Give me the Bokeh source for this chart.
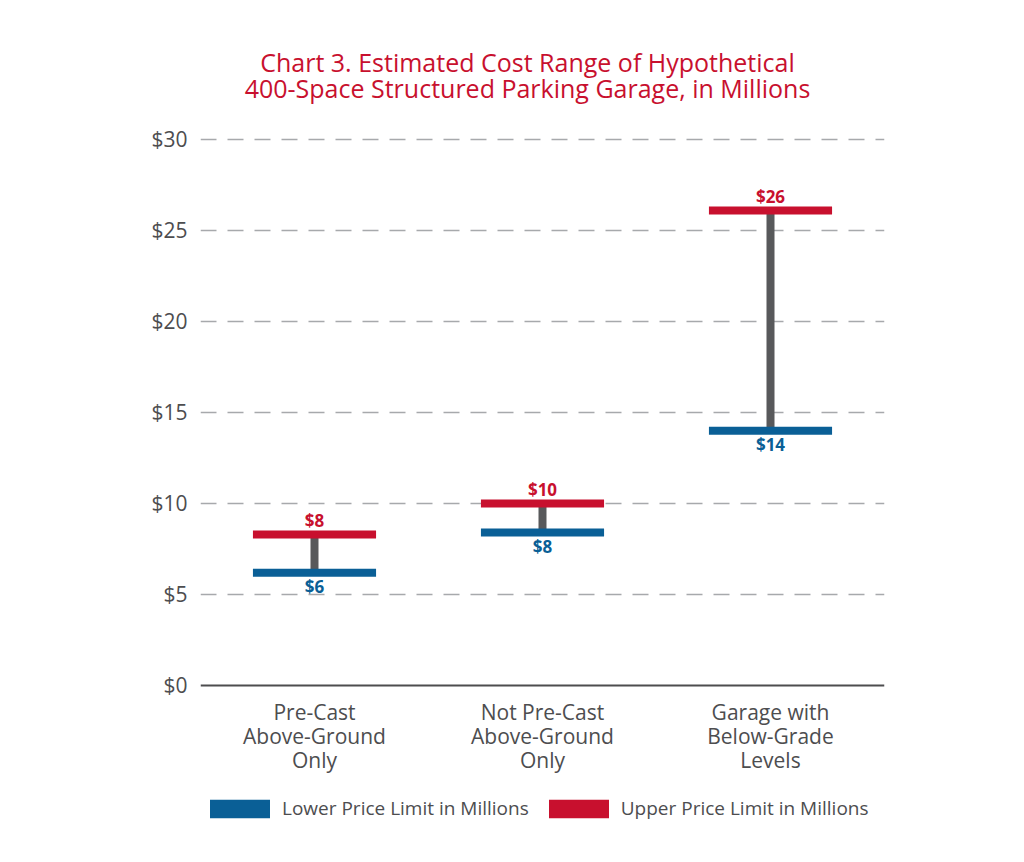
from bokeh.plotting import figure
from bokeh.models import (FactorRange, Range1d, FixedTicker, Label, Legend, LegendItem,
                          NumeralTickFormatter)
from bokeh.core.properties import value
from bokeh.embed import file_html
from bokeh.resources import INLINE

# ---- data ----
categories = ["Pre-Cast\nAbove-Ground\nOnly",
              "Not Pre-Cast\nAbove-Ground\nOnly",
              "Garage with\nBelow-Grade\nLevels"]
lower = [6.2, 8.4, 14.0]
upper = [8.3, 10.0, 26.1]
lower_labels = ["$6", "$8", "$14"]
upper_labels = ["$8", "$10", "$26"]
y_ticks = [0, 5, 10, 15, 20, 25, 30]
title_lines = ["Chart 3. Estimated Cost Range of Hypothetical",
               "400-Space Structured Parking Garage, in Millions"]
series_names = ["Lower Price Limit in Millions", "Upper Price Limit in Millions"]

RED = "#c8102e"
BLUE = "#0a5f96"
GREY = "#58595b"
TXT = "#4d4d4f"
FONT = "Open Sans"

# frame spans the whole chart height so the title and legend can live inside it
p = figure(width=1024, height=862,
           x_range=FactorRange(*categories, range_padding=0),
           y_range=Range1d(-9.34, 35.71),
           output_backend="svg", toolbar_location=None,
           min_border_left=200, min_border_right=140,
           min_border_top=35, min_border_bottom=7)
p.outline_line_color = None
p.background_fill_color = "white"
p.border_fill_color = "white"

# title lines (screen units relative to the frame's bottom-left)
for i, line in enumerate(title_lines):
    p.add_layout(Label(x=327, y=794 - 26 * i, x_units="screen", y_units="screen",
                       text=line, text_align="center", text_baseline="middle",
                       text_color=RED, text_font=FONT, text_font_size="25px"))

# connectors and limits
p.segment(x0=categories, y0=lower, x1=categories, y1=upper,
          line_width=8, line_color=GREY, line_cap="butt")
r_low = p.rect(x=categories, y=lower, width=0.54, height=8, height_units="screen",
               fill_color=BLUE, line_color=None)
r_up = p.rect(x=categories, y=upper, width=0.54, height=8, height_units="screen",
              fill_color=RED, line_color=None)

p.text(x=categories, y=upper, text=upper_labels, y_offset=-14,
       text_align="center", text_baseline="middle", text_color=RED,
       text_font=value(FONT), text_font_size="17px", text_font_style="bold")
p.text(x=categories, y=lower, text=lower_labels, y_offset=14,
       text_align="center", text_baseline="middle", text_color=BLUE,
       text_font=value(FONT), text_font_size="17px", text_font_style="bold")

# axes
p.yaxis.ticker = FixedTicker(ticks=y_ticks)
p.yaxis.formatter = NumeralTickFormatter(format="$0")
p.yaxis.axis_line_color = None
p.yaxis.major_tick_line_color = None
p.yaxis.minor_tick_line_color = None
p.yaxis.major_label_standoff = 7
p.yaxis.major_label_text_font = FONT
p.yaxis.major_label_text_font_size = "21px"
p.yaxis.major_label_text_color = TXT

p.xaxis.fixed_location = 0
p.xaxis.axis_line_color = TXT
p.xaxis.axis_line_width = 2
p.xaxis.major_tick_line_color = None
p.xaxis.minor_tick_line_color = None
p.xaxis.major_label_standoff = 7
p.xaxis.major_label_text_font = FONT
p.xaxis.major_label_text_font_size = "21px"
p.xaxis.major_label_text_color = TXT
p.xaxis.major_label_text_line_height = 0.84

p.xgrid.grid_line_color = None
p.ygrid.ticker = FixedTicker(ticks=[t for t in y_ticks if t > 0])
p.ygrid.grid_line_color = "#a7a9ac"
p.ygrid.grid_line_width = 1.5
p.ygrid.grid_line_dash = "16 11"

legend = Legend(items=[LegendItem(label=series_names[0], renderers=[r_low]),
                       LegendItem(label=series_names[1], renderers=[r_up])],
                orientation="horizontal", location=(2, 34),
                glyph_width=75, glyph_height=23, label_standoff=5, spacing=12,
                padding=0, margin=0,
                label_text_font=FONT, label_text_font_size="19px",
                label_text_color=TXT, border_line_color=None,
                background_fill_alpha=0)
p.add_layout(legend, "center")

open("out.html", "w").write(file_html(p, INLINE))
